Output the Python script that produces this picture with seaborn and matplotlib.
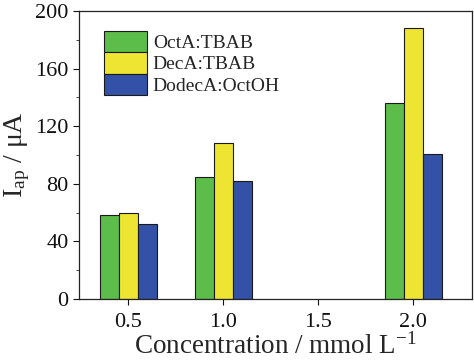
import matplotlib
matplotlib.use("Agg")
import matplotlib.pyplot as plt
from matplotlib.ticker import MultipleLocator
import seaborn as sns
import pandas as pd

# Data
concentrations = [0.5, 1.0, 2.0]
series_names = ["OctA:TBAB", "DecA:TBAB", "DodecA:OctOH"]
octa_tbab = [58, 85, 136]
deca_tbab = [60, 108, 188]
dodeca_octoh = [52, 82, 101]
colors = ["#5cbd4a", "#eee532", "#3351a6"]
x_ticks = [0.5, 1.0, 1.5, 2.0]
y_ticks = [0, 40, 80, 120, 160, 200]

rows = []
for name, vals in zip(series_names, [octa_tbab, deca_tbab, dodeca_octoh]):
    for c, v in zip(concentrations, vals):
        rows.append({"conc": c, "current": v, "series": name})
df = pd.DataFrame(rows)

sns.set_style("ticks")
plt.rcParams["font.family"] = ["Liberation Serif", "DejaVu Serif"]
plt.rcParams["mathtext.fontset"] = "custom"
plt.rcParams["mathtext.rm"] = "Liberation Serif"
plt.rcParams["mathtext.it"] = "Liberation Serif:italic"

fig = plt.figure(figsize=(4.74, 3.61), dpi=100)
ax = fig.add_axes([0.1667, 0.1717, 0.829, 0.7978])

sns.barplot(data=df, x="conc", y="current", hue="series", hue_order=series_names,
            palette=colors, native_scale=True, width=0.6, edgecolor="#1a1a1a",
            linewidth=0.8, saturation=1, errorbar=None, ax=ax)

ax.set_xlim(0.24, 2.31)
ax.set_ylim(0, 200)
ax.set_xticks(x_ticks)
ax.set_xticklabels([f"{t:.1f}" for t in x_ticks])
ax.set_yticks(y_ticks)
ax.yaxis.set_minor_locator(MultipleLocator(20))
ax.tick_params(axis="both", which="major", direction="out", length=4, width=0.8,
               labelsize=16, colors="#111111")
ax.tick_params(axis="x", which="major", pad=6)
ax.tick_params(axis="y", which="minor", direction="out", length=2, width=0.6)
for sp in ax.spines.values():
    sp.set_visible(True)
    sp.set_linewidth(0.9)
    sp.set_color("#222222")

ax.set_xlabel("Concentration / mmol L$^{-1}$", fontsize=19.5, labelpad=1)
ax.set_ylabel("I$_{\\rm ap}$ / μA", fontsize=20, labelpad=2)

handles, labels = ax.get_legend_handles_labels()
ax.legend(handles, labels, loc="upper left", bbox_to_anchor=(0.064, 0.93),
          frameon=False, fontsize=14, handlelength=2.2, handleheight=1.3,
          labelspacing=0.0, handletextpad=0.3, borderpad=0, borderaxespad=0)

fig.savefig("out.png", dpi=100)
